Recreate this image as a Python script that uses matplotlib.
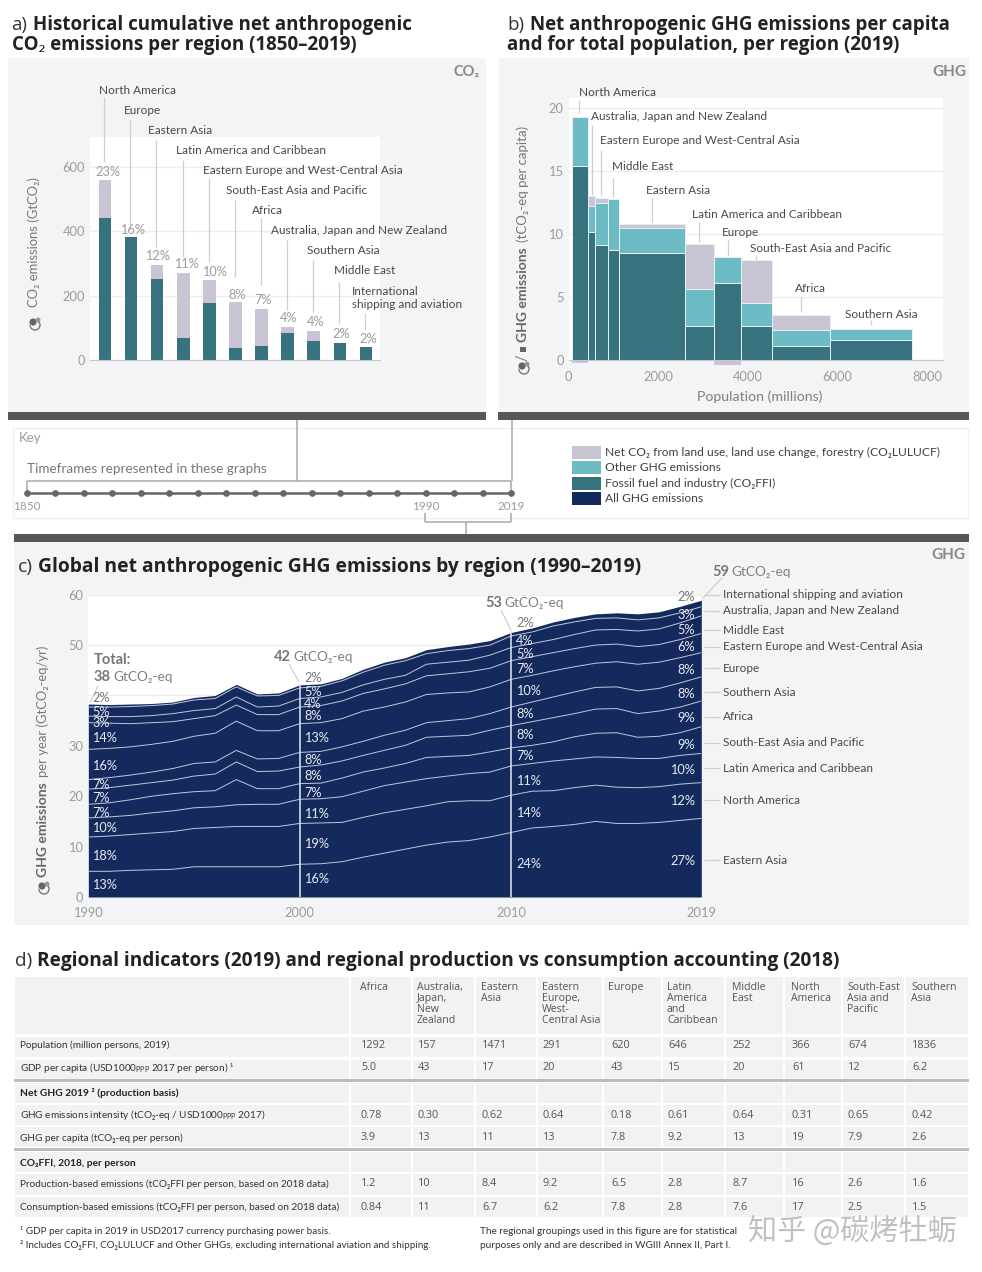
import matplotlib
matplotlib.use("Agg")
import matplotlib.pyplot as plt
from matplotlib.patches import Rectangle, Circle

W, H = 982, 1272
NARROW = ["Lato", "Noto Sans", "DejaVu Sans"]
WIDE = ["Open Sans", "Noto Sans", "DejaVu Sans"]
plt.rcParams["font.family"] = NARROW
plt.rcParams["mathtext.default"] = "regular"

TEAL = "#37737f"
AQUA = "#6dbcc5"
LILAC = "#c9c5d5"
NAVY = "#152a5c"
PANEL = "#f3f4f6"
BAR = "#555759"
GREY = "#9b9b9b"
TEXT = "#484848"
LEAD = "#cfcfcf"
GRID = "#eeeeee"

# PANEL A: cumulative CO2 per region (GtCO2)
a_regions = ["North America", "Europe", "Eastern Asia", "Latin America and Caribbean",
             "Eastern Europe and West-Central Asia", "South-East Asia and Pacific", "Africa",
             "Australia, Japan and New Zealand", "Southern Asia", "Middle East",
             "International\nshipping and aviation"]
a_ffi = [441, 381, 252, 67, 176, 36, 44, 83, 58, 54, 39]
a_lulucf = [118, 0, 43, 203, 72, 144, 114, 19, 32, 0, 0]
a_share = ["23%", "16%", "12%", "11%", "10%", "8%", "7%", "4%", "4%", "2%", "2%"]

# PANEL B: per capita emissions against population
b_regions = ["North America", "Australia, Japan and New Zealand",
             "Eastern Europe and West-Central Asia", "Middle East", "Eastern Asia",
             "Latin America and Caribbean", "Europe", "South-East Asia and Pacific",
             "Africa", "Southern Asia"]
b_pop = [345, 150, 298, 253, 1473, 640, 610, 685, 1287, 1838]
b_ffi = [15.4, 10.15, 9.1, 8.75, 8.5, 2.7, 6.15, 2.7, 1.15, 1.6]
b_other = [3.9, 2.05, 3.4, 4.05, 2.0, 2.95, 2.0, 1.8, 1.25, 0.9]
b_lulucf = [-0.2, 0.8, 0.4, 0.0, 0.3, 3.55, -0.4, 3.4, 1.2, 0.0]

# PANEL C: upper edge of each region in the stack (GtCO2-eq per year)
years = list(range(1990, 2020))
c_east_asia = [5.1, 5.1, 5.3, 5.4, 5.5, 6.0, 6.0, 6.0, 6.0, 6.0, 6.5, 6.6, 7.0, 7.9, 8.7,
               9.5, 10.3, 10.9, 11.2, 11.9, 12.8, 13.7, 14.0, 14.4, 15.0, 14.6, 14.6, 14.8, 15.2, 15.6]
c_north_america = [11.9, 12.1, 12.4, 12.7, 13.0, 13.6, 13.8, 14.0, 14.0, 14.0, 14.6, 14.7, 14.8, 15.8, 16.7,
                   17.4, 18.1, 18.9, 19.1, 19.1, 20.2, 21.0, 21.1, 21.7, 22.2, 21.8, 21.7, 21.9, 22.4, 22.7]
c_latin_america = [15.7, 15.9, 16.2, 16.7, 17.1, 17.7, 17.9, 18.3, 18.4, 18.4, 19.4, 19.5, 19.9, 21.0, 22.1,
                   22.8, 23.5, 24.0, 24.5, 24.8, 26.0, 26.5, 27.0, 27.4, 27.8, 27.7, 27.5, 27.5, 28.1, 28.5]
c_se_asia = [18.4, 18.7, 19.3, 20.0, 20.5, 20.9, 21.1, 23.3, 21.5, 21.5, 22.5, 22.6, 23.6, 24.8, 25.6,
             26.5, 27.7, 27.9, 28.1, 28.8, 29.6, 30.1, 30.8, 31.8, 32.5, 32.6, 31.7, 31.9, 32.6, 33.8]
c_africa = [21.4, 21.7, 22.2, 22.7, 23.2, 24.0, 24.4, 26.8, 24.9, 25.0, 25.8, 26.2, 27.0, 28.1, 29.1,
            30.1, 31.7, 31.9, 32.1, 33.1, 34.0, 34.8, 35.6, 36.4, 37.3, 37.4, 36.4, 36.9, 37.7, 38.9]
c_south_asia = [23.3, 23.7, 24.2, 24.8, 25.5, 26.5, 26.8, 29.1, 27.4, 27.5, 28.7, 28.9, 29.8, 30.9, 32.1,
                33.1, 34.6, 35.0, 35.4, 36.4, 37.7, 38.7, 39.7, 40.7, 41.6, 41.7, 40.9, 41.4, 42.5, 43.7]
c_europe = [29.3, 29.5, 29.8, 30.3, 30.9, 31.9, 32.5, 34.9, 33.0, 33.0, 34.4, 34.6, 35.4, 36.9, 37.7,
            38.7, 40.2, 40.5, 40.7, 41.7, 43.2, 44.0, 44.9, 45.7, 46.4, 46.7, 46.2, 46.6, 47.5, 48.5]
c_e_europe = [34.6, 34.5, 34.4, 34.6, 34.8, 35.4, 36.0, 38.1, 36.2, 36.2, 37.7, 38.0, 38.9, 40.4, 41.3,
              42.3, 43.9, 44.3, 44.7, 45.4, 46.9, 47.7, 48.5, 49.3, 50.0, 50.2, 49.7, 50.1, 51.1, 52.3]
c_middle_east = [35.9, 35.8, 35.8, 36.0, 36.4, 37.0, 37.4, 39.7, 37.7, 37.9, 39.4, 39.7, 40.6, 42.1, 43.2,
                 44.0, 46.2, 46.6, 47.0, 48.0, 49.5, 50.3, 51.1, 52.1, 53.0, 53.1, 52.8, 53.2, 54.4, 55.8]
c_aus_japan = [37.7, 37.7, 37.8, 38.0, 38.3, 39.1, 39.4, 41.7, 39.9, 40.0, 41.5, 41.8, 42.9, 44.6, 46.0,
               46.9, 48.3, 48.9, 49.3, 50.0, 51.8, 52.6, 53.8, 54.6, 55.3, 55.4, 55.0, 55.4, 56.4, 57.6]
c_total = [38.3, 38.2, 38.3, 38.4, 38.7, 39.6, 40.0, 42.2, 40.3, 40.5, 42.1, 42.3, 43.4, 45.2, 46.6,
           47.5, 49.1, 49.7, 50.2, 50.9, 52.5, 53.4, 54.6, 55.5, 56.2, 56.4, 56.2, 56.6, 57.7, 58.9]
c_edges = [c_east_asia, c_north_america, c_latin_america, c_se_asia, c_africa, c_south_asia,
           c_europe, c_e_europe, c_middle_east, c_aus_japan]

c_names = ["International shipping and aviation", "Australia, Japan and New Zealand", "Middle East",
           "Eastern Europe and West-Central Asia", "Europe", "Southern Asia", "Africa",
           "South-East Asia and Pacific", "Latin America and Caribbean", "North America", "Eastern Asia"]
c_share_1990 = ["2%", "5%", "3%", "14%", "16%", "7%", "7%", "7%", "10%", "18%", "13%"]
c_share_2000 = ["2%", "5%", "4%", "8%", "13%", "8%", "8%", "7%", "11%", "19%", "16%"]
c_share_2010 = ["2%", "4%", "5%", "7%", "10%", "8%", "8%", "7%", "11%", "14%", "24%"]
c_share_2019 = ["2%", "3%", "5%", "6%", "8%", "8%", "9%", "9%", "10%", "12%", "27%"]

# PANEL D: table
d_regions = ["Africa", "Australia,\nJapan,\nNew\nZealand", "Eastern\nAsia", "Eastern\nEurope,\nWest-\nCentral Asia",
             "Europe", "Latin\nAmerica\nand\nCaribbean", "Middle\nEast", "North\nAmerica",
             "South-East\nAsia and\nPacific", "Southern\nAsia"]
d_population = ["1292", "157", "1471", "291", "620", "646", "252", "366", "674", "1836"]
d_gdp = ["5.0", "43", "17", "20", "43", "15", "20", "61", "12", "6.2"]
d_intensity = ["0.78", "0.30", "0.62", "0.64", "0.18", "0.61", "0.64", "0.31", "0.65", "0.42"]
d_ghg = ["3.9", "13", "11", "13", "7.8", "9.2", "13", "19", "7.9", "2.6"]
d_production = ["1.2", "10", "8.4", "9.2", "6.5", "2.8", "8.7", "16", "2.6", "1.6"]
d_consumption = ["0.84", "11", "6.7", "6.2", "7.8", "2.8", "7.6", "17", "2.5", "1.5"]

fig = plt.figure(figsize=(W / 100, H / 100), dpi=100, facecolor="white")


def px_axes(left, top, right, bottom, z=1):
    return fig.add_axes([left / W, 1 - bottom / H, (right - left) / W, (bottom - top) / H], zorder=z)


back = fig.add_axes([0, 0, 1, 1], zorder=0)
back.set_xlim(0, W)
back.set_ylim(H, 0)
back.axis("off")
over = fig.add_axes([0, 0, 1, 1], zorder=5)
over.set_xlim(0, W)
over.set_ylim(H, 0)
over.axis("off")


def box(x0, y0, x1, y1, color, ax=back, **kw):
    ax.add_patch(Rectangle((x0, y0), x1 - x0, y1 - y0, facecolor=color, edgecolor="none", **kw))


def txt(x, y, s, size=8.5, color=TEXT, **kw):
    kw.setdefault("va", "center")
    kw.setdefault("ha", "left")
    over.text(x, y, s, fontsize=size, color=color, **kw)


def lead(x0, y0, x1, y1, color=LEAD, lw=0.9):
    over.plot([x0, x1], [y0, y1], color=color, lw=lw, solid_capstyle="butt")


def title(x_tag, x_head, y, tag, head, size=13.5):
    txt(x_tag, y, tag, size=size, color="#333333", family=WIDE)
    txt(x_head, y, head, size=size, color="#222222", family=WIDE, weight="bold")


def icon(x, y):
    over.add_patch(Circle((x + 1, y + 2), 5, facecolor="none", edgecolor="#777777", lw=1))
    over.add_patch(Circle((x - 1, y - 1), 4, facecolor="#666666", edgecolor="white", lw=0.5))
    over.add_patch(Circle((x + 4, y - 3), 2.5, facecolor="#999999", edgecolor="none"))


def style_axes(ax):
    for side in ["top", "right", "left"]:
        ax.spines[side].set_visible(False)
    ax.spines["bottom"].set_color("#c8c8c8")
    ax.tick_params(length=0, labelcolor=GREY, labelsize=9.3)
    ax.set_axisbelow(True)
    ax.grid(axis="y", color=GRID, lw=1)


# BACKGROUND PANELS
box(8, 58, 486, 412, PANEL)
box(499, 58, 969, 412, PANEL)
box(14, 542, 969, 925, PANEL)
box(8, 412, 486, 420, BAR)
box(498, 412, 969, 420, BAR)
box(14, 534, 969, 542, BAR)
back.add_patch(Rectangle((13, 428), 955, 90, facecolor="white", edgecolor="#f0f0f0", lw=1))

# PANEL A
title(11, 33, 25, "a)", "Historical cumulative net anthropogenic")
txt(12, 45, "CO₂ emissions per region (1850–2019)", size=13.5, color="#222222", family=WIDE, weight="bold")
txt(467, 72, "CO₂", size=10.5, color="#888888", ha="center", weight="bold")

ax_a = px_axes(90, 137, 380, 360)
a_x = list(range(len(a_ffi)))
ax_a.bar(a_x, a_ffi, width=0.48, color=TEAL)
ax_a.bar(a_x, a_lulucf, width=0.48, bottom=a_ffi, color=LILAC)
ax_a.set_xlim(-0.575, 10.54)
ax_a.set_ylim(0, 692)
ax_a.set_xticks([])
ax_a.set_yticks([0, 200, 400, 600])
style_axes(ax_a)

a_lab_x = [99, 124, 148, 176, 203, 226, 252, 271, 307, 334, 352]
a_lab_y = [90, 110, 130, 150, 170, 190, 210, 230, 250, 270, 298]
a_lead_x = [104, 130, 156, 183, 209, 235, 261, 287, 313, 339, 365]
a_lead_top = [97, 120, 140, 160, 178, 200, 218, 240, 260, 282, 313]
a_lead_bot = [162, 225, 247, 257, 262, 277, 285, 310, 312, 324, 330]
a_pct_x = [108, 133, 158, 186, 214, 237, 263, 289, 316, 341, 368]
a_pct_y = [172, 230, 256, 264, 272, 295, 300, 318, 322, 334, 339]
for i, name in enumerate(a_regions):
    txt(a_lab_x[i], a_lab_y[i], name, linespacing=1.15)
    lead(a_lead_x[i], a_lead_top[i], a_lead_x[i], a_lead_bot[i])
    txt(a_pct_x[i], a_pct_y[i], a_share[i], size=9.2, color=GREY, ha="center")
txt(34, 307, "CO₂ emissions (GtCO₂)", size=9.4, color="#777777", rotation=90, ha="center", va="bottom")
icon(34, 323)

# PANEL B
title(507, 530, 25, "b)", "Net anthropogenic GHG emissions per capita")
txt(507, 45, "and for total population, per region (2019)", size=13.5, color="#222222", family=WIDE, weight="bold")
txt(949, 72, "GHG", size=11, color="#888888", ha="center", weight="bold")

ax_b = px_axes(568.7, 98, 943, 360)
b_left = [82]
for w in b_pop[:-1]:
    b_left.append(b_left[-1] + w)
b_top = [f + o for f, o in zip(b_ffi, b_other)]
ax_b.bar(b_left, b_ffi, width=b_pop, align="edge", color=TEAL, edgecolor="#e8f1f2", lw=0.7)
ax_b.bar(b_left, b_other, width=b_pop, bottom=b_ffi, align="edge", color=AQUA, edgecolor="#e8f1f2", lw=0.7)
for x0, w, t, l in zip(b_left, b_pop, b_top, b_lulucf):
    if l > 0:
        ax_b.bar(x0, l, width=w, bottom=t, align="edge", color=LILAC, edgecolor="#e8f1f2", lw=0.7)
    elif l < 0:
        ax_b.bar(x0, l, width=w, align="edge", color=LILAC, clip_on=False)
ax_b.set_xlim(0, 8355)
ax_b.set_ylim(0, 20.8)
ax_b.set_xticks([0, 2000, 4000, 6000, 8000])
ax_b.set_yticks([0, 5, 10, 15, 20])
style_axes(ax_b)
ax_b.tick_params(axis="x", pad=8)

b_lab_x = [579, 591, 600, 612, 646, 692, 722, 750, 795, 845]
b_lab_y = [92, 117, 141, 166, 190, 215, 232, 248, 289, 314]
b_lead_x = [579.5, 592, 601, 613, 652, 699.5, 728, 756, 801, 871]
b_lead_top = [100, 125, 150, 178, 198, 222, 240, 256, 297, 320]
b_lead_bot = [113, 195, 195, 197, 222, 242, 256, 260, 312, 325]
for i, name in enumerate(b_regions):
    txt(b_lab_x[i], b_lab_y[i], name)
    lead(b_lead_x[i], b_lead_top[i], b_lead_x[i], b_lead_bot[i])
txt(760, 397, "Population (millions)", size=10.2, color="#808080", ha="center")
txt(523, 342, "GHG emissions", size=10, color="#666666", rotation=90, ha="center", va="bottom", weight="bold")
txt(523, 242, "(tCO₂-eq per capita)", size=9.5, color="#777777", rotation=90, ha="center", va="bottom")
txt(523, 358, "/", size=10.5, color="#777777", rotation=90, ha="center")
box(520, 347, 526, 352, "#666666", ax=over)
icon(523, 367)

# KEY
txt(19, 438, "Key", size=9.5, color=GREY)
txt(27, 469, "Timeframes represented in these graphs", size=9.7, color="#777777")
key_line = "#a8a8a8"
lead(27, 493, 27, 481, key_line, 1.1)
lead(27, 481, 511, 481, key_line, 1.1)
lead(511, 481, 511, 493, key_line, 1.1)
lead(297, 420, 297, 481, key_line, 1.1)
lead(512, 420, 512, 481, key_line, 1.1)
key_dots = [27, 55.5, 84, 112.5, 141, 169.5, 198, 226.5, 255, 283.5, 312, 340.5, 369, 397.5, 426, 454.5, 483, 511]
over.plot(key_dots, [492.5] * len(key_dots), color="#666666", lw=1.8, marker="o", ms=3.8)
txt(27, 506, "1850", size=8.5, color=GREY, ha="center")
txt(426, 506, "1990", size=8.5, color=GREY, ha="center")
txt(511, 506, "2019", size=8.5, color=GREY, ha="center")
lead(425, 513, 425, 522, key_line, 1.1)
lead(425, 522, 511, 522, key_line, 1.1)
lead(511, 513, 511, 522, key_line, 1.1)
lead(466, 522, 466, 534, key_line, 1.1)
key_names = ["Net CO₂ from land use, land use change, forestry (CO₂LULUCF)", "Other GHG emissions",
             "Fossil fuel and industry (CO₂FFI)", "All GHG emissions"]
key_cols = [LILAC, AQUA, TEAL, NAVY]
key_y = [446, 461, 477, 492]
for name, col, y in zip(key_names, key_cols, key_y):
    box(572, y, 601, y + 13, col)
    txt(605, y + 6.5, name, size=8.65, color="#404040")

# PANEL C
title(18, 38, 567, "c)", "Global net anthropogenic GHG emissions by region (1990–2019)", size=13.85)
txt(948, 555, "GHG", size=11, color="#888888", ha="center", weight="bold")
ax_c = px_axes(88.3, 594.7, 701.3, 897)
ax_c.fill_between(years, 0, c_total, color=NAVY, lw=0)
for edge in c_edges:
    ax_c.plot(years, edge, color="#bfc8da", lw=0.7)
ax_c.axvline(2000, color="#d5dbe8", lw=1.2, ymax=42.1 / 60)
ax_c.axvline(2010, color="#d5dbe8", lw=1.2, ymax=52.5 / 60)
ax_c.set_xlim(1990, 2019)
ax_c.set_ylim(0, 60)
ax_c.set_xticks([1990, 2000, 2010, 2019])
ax_c.set_yticks([0, 10, 20, 30, 40, 50, 60])
ax_c.set_yticklabels(["0", "10", "20", "30", "", "50", "60"])
style_axes(ax_c)
ax_c.spines["bottom"].set_visible(False)
ax_c.tick_params(axis="x", pad=7)

y_1990 = [698, 712, 723, 738, 766, 785, 798, 813, 828, 856, 885]
y_2000 = [678, 692, 704, 716, 738, 760, 776, 793, 814, 844, 879]
y_2010 = [623, 641, 654, 669, 691, 714, 735, 756, 781, 813, 864]
y_2019 = [597, 615, 630, 647, 670, 694, 718, 745, 770, 801, 861]
y_names = [595, 611, 630, 647, 668, 692, 717, 743, 768, 800, 860]
for i in range(len(c_names)):
    pct_col = "#777777" if i == 0 else "#e8ebf2"
    txt(92, y_1990[i], c_share_1990[i], size=9.2, color=pct_col)
    txt(304, y_2000[i], c_share_2000[i], size=9.2, color=pct_col)
    txt(516, y_2010[i], c_share_2010[i], size=9.2, color=pct_col)
    txt(695, y_2019[i], c_share_2019[i], size=9.2, color=pct_col, ha="right")
    txt(723, y_names[i], c_names[i])
    lead(704, y_names[i], 720, y_names[i])

txt(94, 660, "Total:", size=10.5, color="#777777", weight="bold")
txt(94, 677, "38", size=10.5, color="#777777", weight="bold")
txt(113, 677, "GtCO₂-eq", size=9.8, color="#808080")
lead(90, 703, 98, 686)
txt(274, 657, "42", size=10.5, color="#777777", weight="bold")
txt(293, 657, "GtCO₂-eq", size=9.8, color="#808080")
lead(289, 664, 299, 682)
txt(485, 603, "53", size=10.5, color="#777777", weight="bold")
txt(504, 603, "GtCO₂-eq", size=9.8, color="#808080")
lead(501, 610, 511, 630)
txt(712, 572, "59", size=10.5, color="#777777", weight="bold")
txt(731, 572, "GtCO₂-eq", size=9.8, color="#808080")
lead(722, 578, 703, 598)
txt(43, 877, "GHG emissions", size=10, color="#666666", rotation=90, ha="center", va="bottom", weight="bold")
txt(43, 777, "per year (GtCO₂-eq/yr)", size=9.4, color="#777777", rotation=90, ha="center", va="bottom")
icon(43, 887)

# PANEL D
title(15, 37, 961, "d)", "Regional indicators (2019) and regional production vs consumption accounting (2018)", size=13.7)
col_edges = [14, 350, 412, 475, 537, 603, 662, 725, 784, 842, 905, 969]
col_text = [360, 417, 481, 542, 608, 667, 732, 791, 847, 911]
row_bands = [(977, 1034), (1037, 1057), (1060, 1079), (1083, 1103), (1105, 1125), (1127, 1147),
             (1152, 1172), (1174, 1195), (1197, 1217)]
for y0, y1 in row_bands:
    for x0, x1 in zip(col_edges[:-1], col_edges[1:]):
        box(x0 + 0.7, y0, x1 - 0.7, y1, "#f2f2f3")
box(14, 1079, 969, 1082, "#bdbdbd")
box(14, 1148, 969, 1151, "#bdbdbd")

for x, name in zip(col_text, d_regions):
    txt(x, 982, name, size=7.6, color="#555555", family=WIDE, va="top", linespacing=1.02)

table_rows = [
    ("Population (million persons, 2019)", d_population, 1045),
    ("GDP per capita (USD1000$_{PPP}$ 2017 per person) ¹", d_gdp, 1068),
    ("GHG emissions intensity (tCO₂-eq / USD1000$_{PPP}$ 2017)", d_intensity, 1115),
    ("GHG per capita (tCO₂-eq per person)", d_ghg, 1138),
    ("Production-based emissions (tCO₂FFI per person, based on 2018 data)", d_production, 1184),
    ("Consumption-based emissions (tCO₂FFI per person, based on 2018 data)", d_consumption, 1207),
]
for label, vals, y in table_rows:
    txt(20, y, label, size=7.2, color="#333333")
    for i, (x, v) in enumerate(zip(col_text, vals)):
        txt(x + (3 if i == 4 else 1), y, v, size=7.8, color="#555555", family=WIDE)
txt(20, 1093, "Net GHG 2019 ² (production basis)", size=7.4, color="#222222", weight="bold")
txt(20, 1163, "CO₂FFI, 2018, per person", size=7.4, color="#222222", weight="bold")

txt(20, 1231, "¹ GDP per capita in 2019 in USD2017 currency purchasing power basis.", size=7.15, color="#333333")
txt(20, 1245, "² Includes CO₂FFI, CO₂LULUCF and Other GHGs, excluding international aviation and shipping.",
    size=7.15, color="#333333")
txt(480, 1231, "The regional groupings used in this figure are for statistical", size=7.2, color="#333333")
txt(480, 1245, "purposes only and are described in WGIII Annex II, Part I.", size=7.2, color="#333333")

txt(748, 1233, "知乎 @碳烤牡蛎", size=21, color="#b5b5b5", alpha=0.85,
    family=["Noto Sans CJK SC", "DejaVu Sans"])

fig.savefig("out.png", dpi=100)
plt.close(fig)
